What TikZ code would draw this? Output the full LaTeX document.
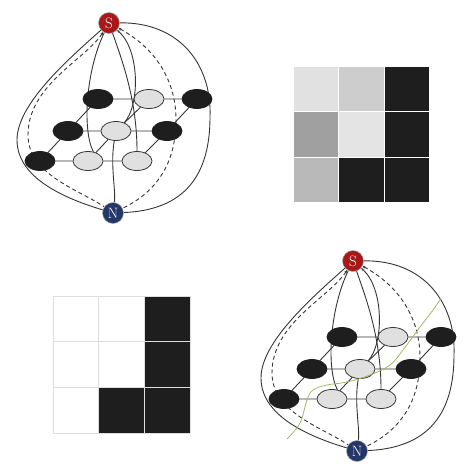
\documentclass[tikz,border=0pt]{standalone}
\usetikzlibrary{shapes.geometric,arrows.meta}
\definecolor{blk}{RGB}{30,30,30}
\definecolor{lgr}{RGB}{224,224,224}
\definecolor{sred}{RGB}{168,24,24}
\definecolor{nblue}{RGB}{35,55,105}
\definecolor{grn}{RGB}{160,185,100}
\definecolor{gridl}{RGB}{222,222,222}
\pgfdeclarelayer{bg}
\pgfsetlayers{bg,main}
\tikzset{
  bell/.style={ellipse,draw=blk,line width=0.8pt,fill=blk,minimum width=30pt,minimum height=19pt,inner sep=0pt},
  lell/.style={ellipse,draw=blk!90,line width=0.8pt,fill=lgr,minimum width=30pt,minimum height=19pt,inner sep=0pt},
  term/.style={circle,minimum size=21pt,inner sep=0pt,text=white,font=\fontsize{15}{15}\selectfont,draw=white!65!black,line width=0.5pt},
  edgeln/.style={draw=blk!90,line width=0.9pt},
  dline/.style={edgeln,dash pattern=on 4pt off 3pt},
  tipS/.style={{Stealth[length=3pt,width=2.5pt]}-}
}
\newcommand\graphbody{%
  \node[term,fill=sred] (S) at (109,23) {S};
  \node[term,fill=nblue] (N) at (113,213) {N};
  \node[bell] (b1) at (98,99) {};
  \node[lell] (l1) at (149,99) {};
  \node[bell] (b2) at (197,99) {};
  \node[bell] (b3) at (68,131) {};
  \node[lell] (l2) at (116,131) {};
  \node[bell] (b4) at (167,131) {};
  \node[bell] (b5) at (40,161) {};
  \node[lell] (l3) at (88,161) {};
  \node[lell] (l4) at (137,161) {};
  \begin{pgfonlayer}{bg}
    \draw[edgeln] (b1)--(l1) (l1)--(b2) (b3)--(l2) (l2)--(b4) (b5)--(l3) (l3)--(l4)
      (b1)--(b3) (l1)--(l2) (b2)--(b4) (b3)--(b5) (l2)--(l3) (b4)--(l4);
    \draw[edgeln] (S) .. controls (65,62) and (17,105) .. (17,140) .. controls (17,180) and (70,200) .. (N);
    \draw[edgeln] (S) .. controls (180,22) and (212,65) .. (210,117) .. controls (210,175) and (185,210) .. (N);
    \draw[dline,tipS] (S) .. controls (85,60) and (28,85) .. (28,135) .. controls (28,175) and (80,190) .. (N);
    \draw[dline,tipS] (S) .. controls (150,45) and (176,75) .. (176,120) .. controls (176,170) and (150,195) .. (N);
    \draw[edgeln] (S) .. controls (86,70) and (82,130) .. (l3.60);
    \draw[edgeln] (S) .. controls (122,60) and (137,100) .. (l4.north);
    \draw[edgeln,tipS] (S) .. controls (140,50) and (140,105) .. (l2.45);
    \draw[edgeln] (l2) .. controls (110,165) and (116,190) .. (N);
  \end{pgfonlayer}
}
\begin{document}
\begin{tikzpicture}[x=1pt,y=-1pt]
\useasboundingbox (0,0) rectangle (474,474);
% top-left graph
\begin{scope}[name prefix=g1-]
  \graphbody
\end{scope}
% bottom-right graph
\begin{scope}[shift={(244,238)},name prefix=g2-]
  \graphbody
\end{scope}
\draw[grn,line width=0.8pt] plot[smooth,tension=0.6] coordinates {(287,439) (300,423) (307,400) (313,390) (327,385) (347,382) (370,375) (390,365) (403,350) (420,327) (433,310) (441,298)};
% top-right gray matrix
\def\cs{45.67}
\foreach \r/\c/\g in {0/0/225,0/1/205,0/2/30,1/0/160,1/1/228,1/2/30,2/0/185,2/1/30,2/2/30}{
  \definecolor{cc}{RGB}{\g,\g,\g}
  \fill[cc] ({293+\c*\cs+0.8},{66+\r*\cs+0.8}) rectangle ({293+(\c+1)*\cs-0.8},{66+(\r+1)*\cs-0.8});
}
% bottom-left binary matrix
\foreach \r/\c in {0/2,1/2,2/1,2/2}{
  \fill[blk] ({53+\c*\cs},{296+\r*\cs}) rectangle ({53+(\c+1)*\cs},{296+(\r+1)*\cs});
}
\draw[gridl,line width=1pt] (53,296) rectangle (190,433);
\foreach \i in {1,2}{
  \draw[gridl,line width=1pt] ({53+\i*\cs},296) -- ({53+\i*\cs},433);
  \draw[gridl,line width=1pt] (53,{296+\i*\cs}) -- (190,{296+\i*\cs});
}
\end{tikzpicture}
\end{document}
